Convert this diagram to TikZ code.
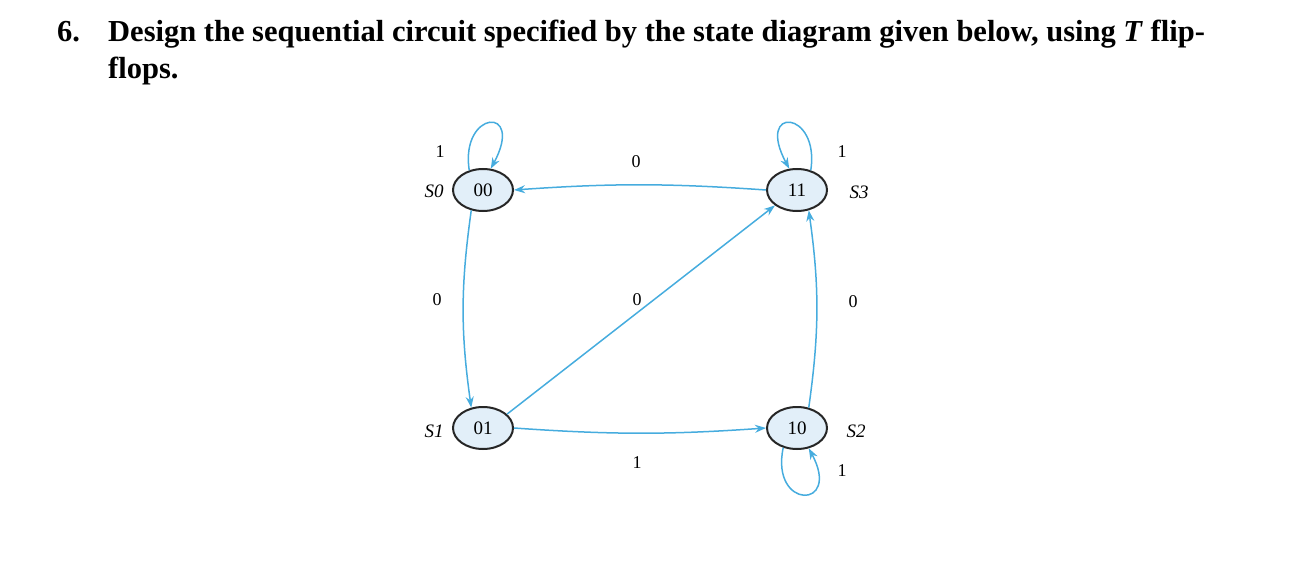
\documentclass[tikz,border=0pt]{standalone}
\usepackage{fontspec}
\setmainfont{Liberation Serif}
\usetikzlibrary{arrows.meta,shapes.geometric}
\definecolor{edge}{RGB}{70,172,222}
\definecolor{sfill}{RGB}{226,239,249}
\begin{document}
\begin{tikzpicture}[x=1pt,y=-1pt,
  state/.style={ellipse,draw=black!85,line width=2pt,fill=sfill,minimum width=60pt,minimum height=42pt,inner sep=0pt,font=\fontsize{19}{19}\selectfont},
  lbl/.style={font=\fontsize{18}{18}\selectfont,inner sep=1pt},
  nm/.style={font=\itshape\fontsize{19}{19}\selectfont,inner sep=1pt},
  tr/.style={draw=edge,line width=1.5pt,-{Stealth[length=11pt,width=8pt]}}]
\useasboundingbox (0,0) rectangle (1300,580);
\node[anchor=base west,font=\bfseries\fontsize{30.5}{36}\selectfont,inner sep=0pt] (num) at (57,42) {6.};
\node[anchor=base west,font=\bfseries\fontsize{30.5}{36}\selectfont,inner sep=0pt] (t1) at (108,42) {Design the sequential circuit specified by the state diagram given below, using \textit{T} flip-};
\node[anchor=base west,font=\bfseries\fontsize{30.5}{36}\selectfont,inner sep=0pt] (t2) at (108,79) {flops.};
\node[state] (s0) at (483,190) {00};
\node[state] (s3) at (797,190) {11};
\node[state] (s1) at (483,428) {01};
\node[state] (s2) at (797,428) {10};
\node[nm] (n0) at (434,191) {S0};
\node[nm] (n3) at (859,192) {S3};
\node[nm] (n1) at (434,431) {S1};
\node[nm] (n2) at (856,431) {S2};
\draw[tr] (s3.west) to[bend right=4] (s0.east);
\draw[tr] (s0.240) to[bend right=8] (s1.120);
\draw[tr] (s1.30) -- (s3.215);
\draw[tr] (s2.60) to[bend right=8] (s3.300);
\draw[tr] (s1.east) to[bend right=4] (s2.west);
\draw[tr] (s0.125) .. controls (460,110) and (525,105) .. (s0.70);
\draw[tr] (s3.55) .. controls (820,110) and (755,105) .. (s3.110);
\draw[tr] (s2.235) .. controls (770,510) and (842,510) .. (s2.300);
\node[lbl] (l1) at (440,152) {1};
\node[lbl] (l2) at (636,162) {0};
\node[lbl] (l3) at (842,152) {1};
\node[lbl] (l4) at (437,300) {0};
\node[lbl] (l5) at (637,300) {0};
\node[lbl] (l6) at (853,302) {0};
\node[lbl] (l7) at (637,463) {1};
\node[lbl] (l8) at (842,471) {1};
\end{tikzpicture}
\end{document}
